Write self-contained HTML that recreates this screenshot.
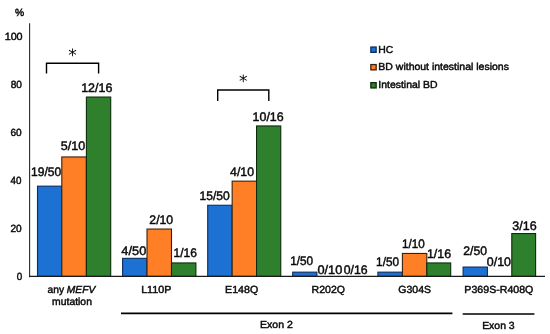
<!DOCTYPE html>
<html lang="en">
<head>
<meta charset="utf-8">
<title>MEFV mutation frequency</title>
<style>
html,body{margin:0;padding:0;background:#fff;}
body{width:550px;height:334px;overflow:hidden;}
svg{display:block;}
text{font-family:"Liberation Sans",Arial,Helvetica,sans-serif;fill:#0a0a0a;stroke:#0a0a0a;stroke-width:0.45px;text-rendering:geometricPrecision;}
.v{font-size:12.4px;}
.x{font-size:10.3px;}
.t{font-size:10.4px;}
.l{font-size:10.1px;}
.a{font-family:"DejaVu Sans",sans-serif;font-size:17px;stroke-width:0;}
</style>
</head>
<body>
<svg width="550" height="334" viewBox="0 0 550 334">
<rect width="550" height="334" fill="#ffffff"/>
<rect x="37.50" y="186.15" width="24.30" height="90.25" fill="#1c71d3" stroke="#0e2c5c" stroke-width="1.1"/>
<rect x="61.80" y="156.95" width="24.60" height="119.45" fill="#ff7f27" stroke="#3a200c" stroke-width="1.1"/>
<rect x="86.40" y="97.05" width="24.30" height="179.35" fill="#2e802d" stroke="#0c2a0c" stroke-width="1.1"/>
<rect x="122.60" y="258.35" width="24.40" height="18.05" fill="#1c71d3" stroke="#0e2c5c" stroke-width="1.1"/>
<rect x="147.00" y="229.05" width="24.50" height="47.35" fill="#ff7f27" stroke="#3a200c" stroke-width="1.1"/>
<rect x="171.50" y="262.95" width="24.40" height="13.45" fill="#2e802d" stroke="#0c2a0c" stroke-width="1.1"/>
<rect x="207.70" y="205.25" width="24.45" height="71.15" fill="#1c71d3" stroke="#0e2c5c" stroke-width="1.1"/>
<rect x="232.15" y="181.15" width="24.40" height="95.25" fill="#ff7f27" stroke="#3a200c" stroke-width="1.1"/>
<rect x="256.55" y="125.95" width="24.20" height="150.45" fill="#2e802d" stroke="#0c2a0c" stroke-width="1.1"/>
<rect x="292.70" y="272.15" width="24.20" height="4.25" fill="#1c71d3" stroke="#0e2c5c" stroke-width="1.1"/>
<rect x="377.90" y="272.15" width="24.50" height="4.25" fill="#1c71d3" stroke="#0e2c5c" stroke-width="1.1"/>
<rect x="402.40" y="253.45" width="24.40" height="22.95" fill="#ff7f27" stroke="#3a200c" stroke-width="1.1"/>
<rect x="426.80" y="262.95" width="23.90" height="13.45" fill="#2e802d" stroke="#0c2a0c" stroke-width="1.1"/>
<rect x="463.10" y="267.05" width="24.30" height="9.35" fill="#1c71d3" stroke="#0e2c5c" stroke-width="1.1"/>
<rect x="511.80" y="233.55" width="23.80" height="42.85" fill="#2e802d" stroke="#0c2a0c" stroke-width="1.1"/>
<line x1="29.6" y1="23.3" x2="29.6" y2="277.3" stroke="#2a2a2a" stroke-width="1.1"/>
<line x1="29.1" y1="276.4" x2="545" y2="276.4" stroke="#1a1a1a" stroke-width="1.15"/>
<path d="M46.5 73.6V63.2H98.6V73.6" fill="none" stroke="#000" stroke-width="1.4"/>
<path d="M217.7 101.1V90H268.8V101.1" fill="none" stroke="#000" stroke-width="1.4"/>
<line x1="121" y1="313.4" x2="452.4" y2="313.4" stroke="#000" stroke-width="1.6"/>
<line x1="462.7" y1="314.0" x2="534.4" y2="314.0" stroke="#000" stroke-width="1.6"/>
<text class="v" x="30.97" y="175.7" textLength="30.29" lengthAdjust="spacingAndGlyphs">19/50</text>
<text class="v" x="60.75" y="150.2" textLength="24.41" lengthAdjust="spacingAndGlyphs">5/10</text>
<text class="v" x="81.15" y="92.3" textLength="31.22" lengthAdjust="spacingAndGlyphs">12/16</text>
<text class="v" x="121.37" y="254.5" textLength="24.89" lengthAdjust="spacingAndGlyphs">4/50</text>
<text class="v" x="149.33" y="223.7" textLength="23.82" lengthAdjust="spacingAndGlyphs">2/10</text>
<text class="v" x="173.47" y="256.9" textLength="23.39" lengthAdjust="spacingAndGlyphs">1/16</text>
<text class="v" x="199.47" y="200.3" textLength="30.29" lengthAdjust="spacingAndGlyphs">15/50</text>
<text class="v" x="230.08" y="176.3" textLength="23.97" lengthAdjust="spacingAndGlyphs">4/10</text>
<text class="v" x="252.55" y="120.8" textLength="31.12" lengthAdjust="spacingAndGlyphs">10/16</text>
<text class="v" x="290.19" y="265.4" textLength="22.95" lengthAdjust="spacingAndGlyphs">1/50</text>
<text class="v" x="317.44" y="273.7" textLength="24.92" lengthAdjust="spacingAndGlyphs">0/10</text>
<text class="v" x="343.75" y="273.7" textLength="23.92" lengthAdjust="spacingAndGlyphs">0/16</text>
<text class="v" x="376.09" y="266.2" textLength="22.95" lengthAdjust="spacingAndGlyphs">1/50</text>
<text class="v" x="402.09" y="247.9" textLength="22.74" lengthAdjust="spacingAndGlyphs">1/10</text>
<text class="v" x="426.95" y="258.4" textLength="24.12" lengthAdjust="spacingAndGlyphs">1/16</text>
<text class="v" x="463.33" y="255.2" textLength="23.71" lengthAdjust="spacingAndGlyphs">2/50</text>
<text class="v" x="486.85" y="266.3" textLength="24.20" lengthAdjust="spacingAndGlyphs">0/10</text>
<text class="v" x="512.35" y="229.6" textLength="24.33" lengthAdjust="spacingAndGlyphs">3/16</text>
<text class="x" x="141.15" y="292.9" textLength="30.12" lengthAdjust="spacingAndGlyphs">L110P</text>
<text class="x" x="225.05" y="292.9" textLength="33.17" lengthAdjust="spacingAndGlyphs">E148Q</text>
<text class="x" x="311.56" y="292.9" textLength="33.41" lengthAdjust="spacingAndGlyphs">R202Q</text>
<text class="x" x="398.34" y="292.9" textLength="32.77" lengthAdjust="spacingAndGlyphs">G304S</text>
<text class="x" x="464.36" y="292.9" textLength="68.99" lengthAdjust="spacingAndGlyphs">P369S-R408Q</text>
<text class="x" x="260.06" y="328.2" textLength="32.86" lengthAdjust="spacingAndGlyphs">Exon 2</text>
<text class="x" x="482.17" y="328.8" textLength="32.52" lengthAdjust="spacingAndGlyphs">Exon 3</text>
<text class="t" x="4.65" y="40.3" textLength="17.97" lengthAdjust="spacingAndGlyphs">100</text>
<text class="t" x="10.66" y="88.3" textLength="11.22" lengthAdjust="spacingAndGlyphs">80</text>
<text class="t" x="10.46" y="135.8" textLength="11.22" lengthAdjust="spacingAndGlyphs">60</text>
<text class="t" x="10.60" y="183.5" textLength="10.88" lengthAdjust="spacingAndGlyphs">40</text>
<text class="t" x="10.46" y="231.6" textLength="11.22" lengthAdjust="spacingAndGlyphs">20</text>
<text class="t" x="16.68" y="279.6" textLength="5.47" lengthAdjust="spacingAndGlyphs">0</text>
<text class="l" x="378.36" y="52.7" textLength="15.04" lengthAdjust="spacingAndGlyphs">HC</text>
<text class="l" x="378.35" y="70.2" textLength="130.54" lengthAdjust="spacingAndGlyphs">BD without intestinal lesions</text>
<text class="l" x="378.32" y="88.3" textLength="59.22" lengthAdjust="spacingAndGlyphs">Intestinal BD</text>
<text class="x" x="47.55" y="292.8" textLength="47.69" lengthAdjust="spacingAndGlyphs">any <tspan font-style="italic">MEFV</tspan></text>
<text class="x" x="52.10" y="305.4" textLength="39.81" lengthAdjust="spacingAndGlyphs">mutation</text>
<text class="t" x="14.98" y="15.8" textLength="9.15" lengthAdjust="spacingAndGlyphs">%</text>
<text class="a" x="72.5" y="60.9" text-anchor="middle">*</text>
<text class="a" x="243.2" y="87.3" text-anchor="middle">*</text>
<rect x="370.85" y="47.05" width="5.3" height="5.3" fill="#1c71d3" stroke="#0e2c5c" stroke-width="1.3"/>
<rect x="370.85" y="64.55" width="5.3" height="5.3" fill="#ff7f27" stroke="#3a200c" stroke-width="1.3"/>
<rect x="370.85" y="82.65" width="5.3" height="5.3" fill="#2e802d" stroke="#0c2a0c" stroke-width="1.3"/>
</svg>
</body>
</html>
